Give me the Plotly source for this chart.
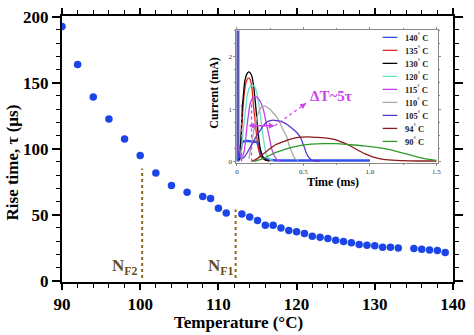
import plotly.graph_objects as go

# ---------------- main data ----------------
temps = [90, 92, 94, 96, 98, 100, 102, 104, 106, 108, 109, 110, 111, 113, 114, 115, 116, 117, 118,
         119, 120, 121, 122, 123, 124, 125, 126, 127, 128, 129, 130, 131, 132, 133, 135, 136, 137, 138, 139]
rise_time = [192.6, 163.7, 139.2, 122.5, 107.4, 94.9, 81.6, 72.1, 66.9, 63.7, 62.3, 54.9, 51.2, 50.5, 48.3,
             45.6, 41.9, 41.9, 40.0, 38.1, 37.0, 35.8, 33.6, 32.9, 31.9, 30.7, 29.7, 28.7, 27.5, 26.8, 26.5,
             25.3, 25.3, 24.8, 24.3, 23.8, 23.3, 22.8, 21.4]

nf_temps = [100.25, 112.2]
nf_tops = [85, 54]
nf_bottom = 2
nf_labels = ["<b>N<sub>F2</sub></b>", "<b>N<sub>F1</sub></b>"]
nf_label_x = [98.1, 110.3]
nf_label_y = 10

x_ticks = [90, 100, 110, 120, 130, 140]
y_ticks = [0, 50, 100, 150, 200]

# ---------------- inset data (transient currents) ----------------
legend_labels = ["140", "135", "130", "120", "115", "110", "105", "94", "90"]
curve_colors = ["#3050e8", "#e02424", "#000000", "#66e0c4", "#c040f0", "#a8a8a8", "#5a34d0", "#8b1a1a", "#2f9a2a"]

t140 = [0.012, 0.025, 0.035, 0.045, 0.08, 0.12, 0.15, 0.162, 0.172, 0.185, 0.21, 0.26, 0.35, 0.5, 0.7, 1.0]
i140 = [0.02, 0.2, 0.33, 0.38, 0.39, 0.38, 0.37, 0.3, 0.2, 0.1, 0.05, 0.03, 0.02, 0.02, 0.02, 0.02]
t135 = [0.02, 0.03, 0.04, 0.055, 0.07, 0.085, 0.1, 0.115, 0.125, 0.14, 0.15, 0.162, 0.175, 0.19, 0.21, 0.25]
i135 = [0.02, 0.3, 0.8, 1.3, 1.52, 1.59, 1.56, 1.35, 1.05, 0.7, 0.44, 0.25, 0.12, 0.06, 0.03, 0.01]
t130 = [0.02, 0.03, 0.04, 0.05, 0.06, 0.075, 0.088, 0.1, 0.113, 0.125, 0.137, 0.146, 0.154, 0.165, 0.175, 0.19, 0.21, 0.24]
i130 = [0.03, 0.45, 0.99, 1.3, 1.54, 1.67, 1.71, 1.69, 1.62, 1.45, 1.17, 0.92, 0.68, 0.42, 0.25, 0.12, 0.04, 0.01]
t120 = [0.025, 0.04, 0.051, 0.065, 0.076, 0.09, 0.105, 0.12, 0.135, 0.15, 0.174, 0.188, 0.199, 0.213, 0.225, 0.245, 0.27]
i120 = [0.05, 0.4, 0.68, 1.0, 1.24, 1.38, 1.44, 1.45, 1.42, 1.3, 0.93, 0.65, 0.44, 0.22, 0.12, 0.05, 0.02]
t115 = [0.015, 0.025, 0.04, 0.055, 0.065, 0.076, 0.088, 0.1, 0.115, 0.137, 0.16, 0.18, 0.199, 0.215, 0.235,
        0.25, 0.26, 0.272, 0.284, 0.3, 0.33]
i115 = [0.3, 0.12, 0.1, 0.2, 0.4, 0.68, 0.92, 1.11, 1.2, 1.24, 1.2, 1.12, 0.99, 0.8, 0.56, 0.38, 0.26, 0.16, 0.1, 0.04, 0.01]
t110 = [0.09, 0.113, 0.13, 0.15, 0.17, 0.185, 0.2, 0.225, 0.25, 0.272, 0.295, 0.311, 0.33, 0.35, 0.373, 0.39,
        0.41, 0.43, 0.46]
i110 = [0.05, 0.38, 0.62, 0.84, 0.98, 1.04, 1.06, 1.04, 0.99, 0.93, 0.86, 0.8, 0.7, 0.59, 0.48, 0.33, 0.2, 0.08, 0.02]
t105 = [0.012, 0.025, 0.04, 0.06, 0.08, 0.1, 0.125, 0.15, 0.174, 0.2, 0.223, 0.25, 0.272, 0.3, 0.346, 0.38, 0.407,
        0.43, 0.458, 0.48, 0.495, 0.51, 0.52, 0.535, 0.557, 0.58, 0.62]
i105 = [0.2, 0.08, 0.06, 0.1, 0.18, 0.27, 0.38, 0.5, 0.59, 0.69, 0.75, 0.78, 0.79, 0.78, 0.75, 0.7, 0.65, 0.6,
        0.53, 0.45, 0.35, 0.25, 0.17, 0.1, 0.04, 0.01, 0.0]
t94 = [0.11, 0.15, 0.19, 0.25, 0.29, 0.36, 0.41, 0.46, 0.53, 0.6, 0.66, 0.75, 0.8, 0.85, 0.9, 0.96, 1.02, 1.1, 1.2, 1.35, 1.5]
i94 = [0.0, 0.05, 0.13, 0.25, 0.32, 0.39, 0.43, 0.46, 0.47, 0.46, 0.45, 0.41, 0.36, 0.3, 0.23, 0.15, 0.09, 0.04, 0.02, 0.01, 0.01]
t90 = [0.13, 0.2, 0.29, 0.36, 0.41, 0.46, 0.56, 0.65, 0.75, 0.85, 0.95, 1.05, 1.14, 1.25, 1.34, 1.42, 1.5]
i90 = [0.0, 0.06, 0.17, 0.23, 0.27, 0.3, 0.33, 0.34, 0.34, 0.32, 0.3, 0.27, 0.23, 0.16, 0.1, 0.05, 0.02]
curves_t = [t140, t135, t130, t120, t115, t110, t105, t94, t90]
curves_i = [i140, i135, i130, i120, i115, i110, i105, i94, i90]

spike_t = [0.006, 0.006]
spike_i = [0.0, 2.5]

tau_t = [0.035, 0.11]
tau_top = 1.15
dT_start = [0.076, 0.68]
dT_end = [0.285, 0.68]
diag_t = [0.285, 0.52]
diag_i = [0.68, 1.11]

inset_x_ticks = [0, 0.5, 1.0, 1.5]
inset_x_text = ["0", "0.5", "1.0", "1.5"]
inset_y_ticks = [0, 1, 2]

SERIF = "Liberation Serif, Times New Roman, serif"
MAG = "#cc44ee"
NF_COL = "#6b4f1d"

fig = go.Figure()

# main scatter
fig.add_trace(go.Scatter(x=temps, y=rise_time, mode="markers",
                         marker=dict(size=7.5, color="#1c45e8"), showlegend=False,
                         xaxis="x", yaxis="y"))
# NF dotted lines
for xv, top in zip(nf_temps, nf_tops):
    fig.add_trace(go.Scatter(x=[xv, xv], y=[nf_bottom, top], mode="lines",
                             line=dict(color="#8b6a1a", width=2, dash="dot"),
                             showlegend=False, xaxis="x", yaxis="y"))

# inset curves
fig.add_trace(go.Scatter(x=spike_t, y=spike_i, mode="lines", line=dict(color="#5a5aa8", width=3.5),
                         showlegend=False, xaxis="x2", yaxis="y2"))
for tt, ii, col in zip(curves_t, curves_i, curve_colors):
    w = 2.5 if col == "#3050e8" else 1.3
    fig.add_trace(go.Scatter(x=tt, y=ii, mode="lines", line=dict(color=col, width=w, shape="spline", smoothing=0.6),
                             showlegend=False, xaxis="x2", yaxis="y2"))
# tau dotted verticals
for tv in tau_t:
    fig.add_trace(go.Scatter(x=[tv, tv], y=[0, tau_top], mode="lines",
                             line=dict(color=MAG, width=1.3, dash="dot"),
                             showlegend=False, xaxis="x2", yaxis="y2"))
# diagonal dotted
fig.add_trace(go.Scatter(x=diag_t, y=diag_i, mode="lines", line=dict(color=MAG, width=1.3, dash="dot"),
                         showlegend=False, xaxis="x2", yaxis="y2"))

annotations = []
# ΔT double arrow
annotations.append(dict(x=dT_end[0], y=dT_end[1], ax=dT_start[0], ay=dT_start[1],
                        xref="x2", yref="y2", axref="x2", ayref="y2", text="", showarrow=True,
                        arrowhead=2, arrowside="end+start", arrowsize=0.8, arrowwidth=1.5, arrowcolor=MAG))
# diagonal arrow head
annotations.append(dict(x=diag_t[1], y=diag_i[1], ax=diag_t[1] - 0.03, ay=diag_i[1] - 0.055,
                        xref="x2", yref="y2", axref="x2", ayref="y2", text="", showarrow=True,
                        arrowhead=2, arrowsize=0.9, arrowwidth=1.3, arrowcolor=MAG))
annotations.append(dict(x=0.706, y=1.25, xref="x2", yref="y2", text="<b>ΔT~5τ</b>", showarrow=False,
                        xanchor="center", yanchor="middle",
                        font=dict(family=SERIF, size=15, color=MAG)))
annotations.append(dict(x=0.072, y=-0.2, xref="x2", yref="y2", text="τ", showarrow=False,
                        xanchor="center", yanchor="middle",
                        font=dict(family=SERIF, size=9, color=MAG)))

# NF labels
for lab, lx in zip(nf_labels, nf_label_x):
    annotations.append(dict(x=lx, y=nf_label_y, xref="x", yref="y", text=lab, showarrow=False,
                            xanchor="center", yanchor="middle",
                            font=dict(family=SERIF, size=17, color=NF_COL)))

# axis titles
annotations.append(dict(x=-0.1275, y=0.45, xref="paper", yref="paper", text="<b>Rise time, τ (µs)</b>",
                        textangle=-90, showarrow=False, xanchor="center", yanchor="middle",
                        font=dict(family=SERIF, size=17, color="black")))
annotations.append(dict(x=0.451, y=-0.153, xref="paper", yref="paper", text="<b>Temperature (°C)</b>",
                        showarrow=False, xanchor="center", yanchor="middle",
                        font=dict(family=SERIF, size=17, color="black")))
annotations.append(dict(x=0.6925, y=0.376, xref="paper", yref="paper", text="<b>Time (ms)</b>",
                        showarrow=False, xanchor="center", yanchor="middle",
                        font=dict(family=SERIF, size=12, color="black")))
annotations.append(dict(x=0.39, y=0.71, xref="paper", yref="paper", text="<b>Current (mA)</b>", textangle=-90,
                        showarrow=False, xanchor="center", yanchor="middle",
                        font=dict(family=SERIF, size=12, color="black")))

# custom compact legend inside the inset
shapes = []
for k, (lab, col) in enumerate(zip(legend_labels, curve_colors)):
    ypix = 30 + 13.4 * k
    yp = (282 - ypix) / 274
    shapes.append(dict(type="line", xref="paper", yref="paper", x0=0.82, x1=0.8575, y0=yp, y1=yp,
                       line=dict(color=col, width=1.3)))
    annotations.append(dict(x=0.8725, y=yp, xref="paper", yref="paper", xanchor="left", yanchor="middle",
                            text=f"<b>{lab}<sup>°</sup> C</b>", showarrow=False,
                            font=dict(family=SERIF, size=8.5, color="#222")))

main_axis = dict(showline=True, linecolor="black", linewidth=2, mirror="allticks", ticks="outside",
                 tickcolor="black", tickwidth=1.5, showgrid=False, zeroline=False,
                 tickfont=dict(family=SERIF, size=17, color="black", weight="bold"))

fig.update_layout(
    width=474, height=335,
    margin=dict(l=62, r=12, t=8, b=53),
    paper_bgcolor="white", plot_bgcolor="white",
    showlegend=False,
    xaxis=dict(**main_axis, range=[90, 140], tickvals=x_ticks, ticklen=6,
               minor=dict(dtick=2, ticklen=4, ticks="outside", tickcolor="black", tickwidth=1.3)),
    yaxis=dict(**main_axis, range=[-1, 200.5], tickvals=y_ticks, ticklen=8,
               minor=dict(dtick=10, ticklen=4, ticks="outside", tickcolor="black", tickwidth=1.3)),
    xaxis2=dict(domain=[0.446, 0.961], anchor="y2", range=[-0.004, 1.51], tickvals=inset_x_ticks,
                ticktext=inset_x_text, showline=True, linecolor="#888", linewidth=1, mirror="allticks",
                ticks="outside", ticklen=2, tickcolor="#888", showgrid=False, zeroline=False,
                tickfont=dict(family=SERIF, size=7, color="#333"),
                minor=dict(dtick=0.25, ticklen=1.5, ticks="outside", tickcolor="#888")),
    yaxis2=dict(domain=[0.449, 0.946], anchor="x2", range=[-0.02, 2.5], tickvals=inset_y_ticks,
                showline=True, linecolor="#888", linewidth=1, mirror="allticks",
                ticks="outside", ticklen=2, tickcolor="#888", showgrid=False, zeroline=False,
                tickfont=dict(family=SERIF, size=7, color="#333"),
                minor=dict(dtick=0.25, ticklen=1.5, ticks="outside", tickcolor="#888")),
    annotations=annotations,
    shapes=shapes,
)

fig.write_html("out.html")
